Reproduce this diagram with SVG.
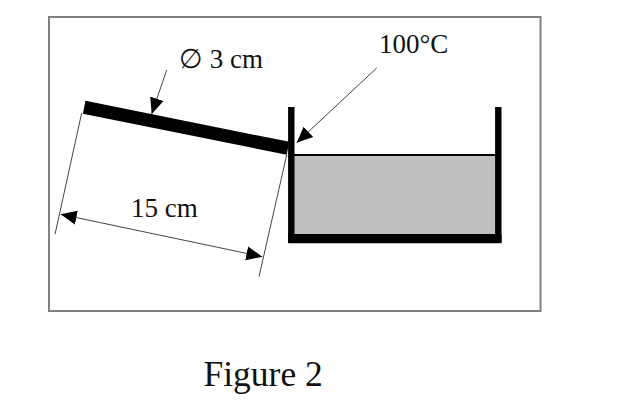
<svg xmlns="http://www.w3.org/2000/svg" width="620" height="416" viewBox="0 0 620 416">
<style>
text{font-family:"Liberation Serif","Times New Roman",serif;fill:#111}
.lbl{font-size:27px}
.thin{fill:none;stroke:#444;stroke-width:1}
.arrow{fill:none;stroke:#444;stroke-width:1}
</style>
<defs>
<marker id="head" markerUnits="userSpaceOnUse" markerWidth="18" markerHeight="16" refX="16" refY="8" orient="auto-start-reverse" viewBox="0 0 18 16"><path d="M0 1L16 8L0 15Z" fill="#000"/></marker>
</defs>
<rect width="620" height="416" fill="#fff"/>
<rect id="frame" x="49" y="17" width="491.5" height="294" fill="#fff" stroke="#808080" stroke-width="2"/>
<g id="vessel">
<rect x="294" y="155" width="201.500" height="80" fill="#c0c0c0"/>
<path d="M294 155H496" stroke="#000" stroke-width="2" fill="none"/>
<path d="M291.300 107V243M498.300 107V243" fill="none" stroke="#000" stroke-width="6.400"/>
<rect x="288.100" y="234" width="213.400" height="9.300" rx="1" fill="#000"/>
</g>
<g id="rod">
<path d="M84.200 107.300L288 148.300" stroke="#000" stroke-width="13.200" fill="none"/>
</g>
<g id="connectors">
<path class="thin" d="M81.700 113L55 234.300"/>
<path class="thin" d="M286.700 155L259 276.700"/>
<path class="arrow" d="M60.700 214.300L262.300 256.700" marker-start="url(#head)" marker-end="url(#head)"/>
<path class="arrow" d="M166.700 70L151.700 114" marker-end="url(#head)"/>
<path class="arrow" d="M376.700 68L296.700 142.700" marker-end="url(#head)"/>
</g>
<g id="labels">
<text class="lbl" x="179" y="68">∅ 3 cm</text>
<text class="lbl" x="379" y="53">100°C</text>
<text class="lbl" x="131" y="216.500">15 cm</text>
<text x="203.500" y="386" font-size="35.500">Figure 2</text>
</g>
</svg>
